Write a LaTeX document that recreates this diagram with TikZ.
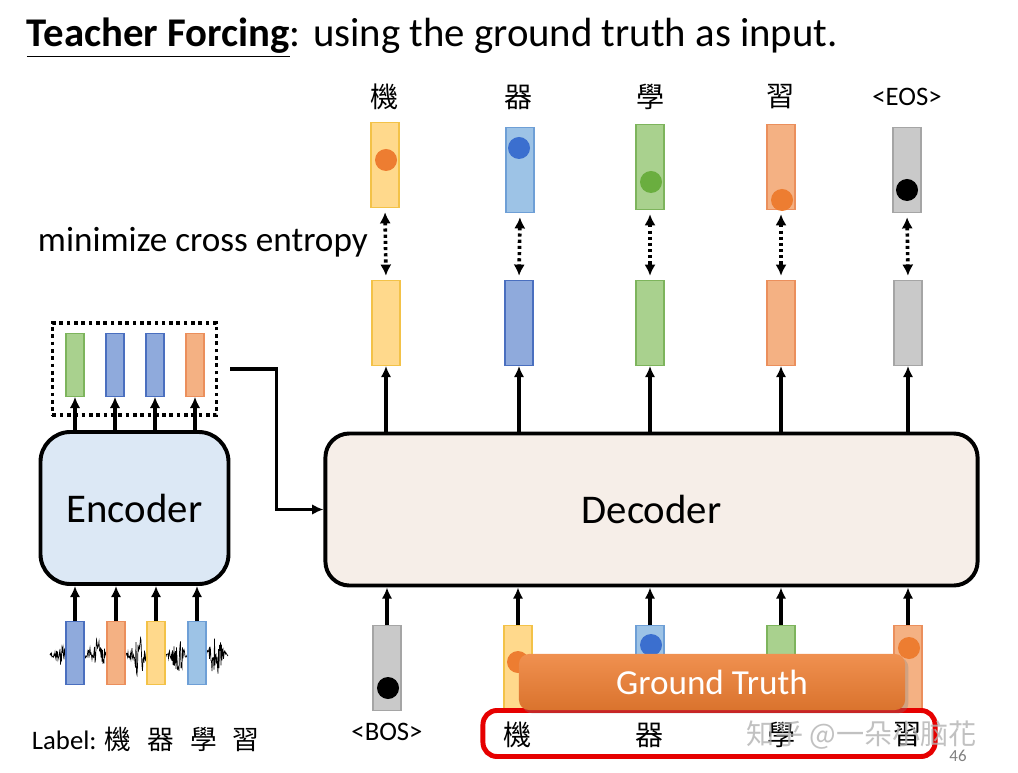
\documentclass[tikz,border=0pt]{standalone}
\usepackage{fontspec}
\setmainfont{Carlito}
\newfontfamily\cjk{Noto Sans CJK TC}
\usetikzlibrary{arrows.meta,positioning,shadows}
\definecolor{yelF}{HTML}{FFD98C}\definecolor{yelD}{HTML}{F3C248}
\definecolor{bluF}{HTML}{9DC3E6}\definecolor{bluD}{HTML}{6E9FD6}
\definecolor{dblF}{HTML}{8FAADC}\definecolor{dblD}{HTML}{4A6FBF}
\definecolor{grnF}{HTML}{A9D18E}\definecolor{grnD}{HTML}{7DB45C}
\definecolor{salF}{HTML}{F4B183}\definecolor{salD}{HTML}{EB8F5C}
\definecolor{gryF}{HTML}{C9C9C9}\definecolor{gryD}{HTML}{A5A5A5}
\definecolor{orgD}{HTML}{ED7D31}\definecolor{bluP}{HTML}{3B6FCF}
\definecolor{grnP}{HTML}{6AAE3F}\definecolor{redD}{HTML}{E60000}
\definecolor{decF}{HTML}{F6EEE8}\definecolor{encF}{HTML}{DCE8F5}
\tikzset{l/.style={font=\fontsize{29}{29}\selectfont}}
\tikzset{m/.style={font=\fontsize{19}{19}\selectfont}}
\tikzset{c/.style={font=\cjk\fontsize{20}{20}\selectfont}}
\tikzset{
vec/.style 2 args={draw=#2, fill=#1, line width=0.8pt, minimum width=0.7cm, minimum height=2.12cm, inner sep=0pt},
svec/.style 2 args={draw=#2, fill=#1, line width=0.8pt, minimum width=0.45cm, minimum height=1.56cm, inner sep=0pt},
dot/.style={circle, fill=#1, minimum size=0.55cm, inner sep=0pt},
arr/.style={-{Latex[length=8pt,width=7.5pt]}, line width=2.4pt},
cmp/.style={{Latex[length=8pt,width=8pt]}-{Latex[length=8pt,width=8pt]}, line width=2.6pt, dash pattern=on 2.2pt off 2.2pt, shorten <=3pt, shorten >=3pt},
declare function={bump(\t,\c,\w)=exp(0-((\t-\c)/\w)^2);}
}

\begin{document}
\begin{tikzpicture}[x=0.025cm, y=-0.025cm]
    \fill[white] (0,0) rectangle (1018,773);
    \useasboundingbox (0,0) rectangle (1018,773);
    \node[l, anchor=base west] (title) at (22,47) {\textbf{\underline{Teacher Forcing}}: using the ground truth as input.};
    \node[font=\fontsize{25}{25}\selectfont, anchor=base west] (ce) at (33,252) {minimize cross entropy};
    \foreach \n/\x/\w in {1/385/機, 2/519/器, 3/651/學, 4/781/習}
      \node[c] (w\n) at (\x,97) {\w};
    \node[m] (w5) at (907,97) {<EOS>};
    \foreach \n/\x/\y/\f/\d in {1/385/165/yelF/yelD, 2/520/170/bluF/bluD, 3/650/167/grnF/grnD, 4/781/167/salF/salD, 5/907/170/gryF/gryD}
      \node[vec={\f}{\d}] (t\n) at (\x,\y) {};
    \node[dot=orgD] (p1) at (386,160) {};
    \node[dot=bluP] (p2) at (519,148) {};
    \node[dot=grnP] (p3) at (651,182) {};
    \node[dot=orgD] (p4) at (782,200) {};
    \node[dot=black] (p5) at (907,190) {};
    \foreach \n/\x/\f/\d in {1/386/yelF/yelD, 2/519/dblF/dblD, 3/650/grnF/grnD, 4/781/salF/salD, 5/908/gryF/gryD}
      \node[vec={\f}{\d}] (o\n) at (\x,323) {};
    \node[draw, line width=2.8pt, rounded corners=0.6cm, fill=decF, minimum width=16.3cm, minimum height=3.8cm] (dec) at (651.5,509.5) {};
    \node[l] (declab) at (dec.center) {Decoder};
    \foreach \n/\x/\f/\d in {1/387/gryF/gryD, 2/518/yelF/yelD, 3/650/bluF/bluD, 4/781/grnF/grnD, 5/908/salF/salD}
      \node[vec={\f}{\d}] (i\n) at (\x,668) {};
    \node[dot=black] (q1) at (388,688) {};
    \node[dot=orgD] (q2) at (518,662) {};
    \node[dot=bluP] (q3) at (651,645) {};
    \node[dot=orgD] (q5) at (909,648) {};
    \foreach \n in {1,...,5} {
      \draw[cmp] (t\n.south) -- (o\n.north);
      \draw[arr] (o\n.south |- dec.north) -- (o\n.south);
      \draw[arr] (i\n.north) -- (i\n.north |- dec.south);
    }
    \node[m] (bos) at (387,732) {<BOS>};
    \pgfmathsetseed{42}
    \draw[line width=0.5pt] (50,655) \foreach \t in {50.5,51,...,228} { -- (\t,{655+rand*(2+9*bump(\t,62,5)+14*bump(\t,98,8)+22*bump(\t,139,6)+16*bump(\t,178,6)+23*bump(\t,216,6))}) };
    \node[draw, line width=2.8pt, rounded corners=0.75cm, fill=encF, minimum width=4.7cm, minimum height=3.8cm] (enc) at (134.5,508) {};
    \node[l] (enclab) at (enc.center) {Encoder};
    \foreach \n/\x/\f/\d in {1/75/grnF/grnD, 2/115/dblF/dblD, 3/155/dblF/dblD, 4/195/salF/salD}
      \node[svec={\f}{\d}] (e\n) at (\x,365) {};
    \foreach \n/\x/\f/\d in {1/75/dblF/dblD, 2/116/salF/salD, 3/156/yelF/yelD, 4/197/bluF/bluD}
      \node[svec={\f}{\d}] (a\n) at (\x,653) {};
    \foreach \n in {1,...,4} {
      \draw[arr] (e\n.south |- enc.north) -- (e\n.south);
      \draw[arr] (a\n.north) -- (a\n.north |- enc.south);
    }
    \node[draw, line width=2.4pt, dash pattern=on 2.6pt off 2.6pt, minimum width=4.1cm, minimum height=2.3cm] (eo) at (134.5,369) {};
    \draw[arr] ([xshift=0.3cm]eo.east) -- ++(1.15cm,0) |- (dec.west);
    \node[draw=redD, line width=3.5pt, rounded corners=0.35cm, fill=white, minimum width=11.3cm, minimum height=1.15cm] (rb) at (709,733.5) {};
    \node[text=white, rounded corners=0.25cm, top color=orgD!85!white, bottom color=orgD!92!black, drop shadow={opacity=0.3}, minimum width=9.65cm, minimum height=1.4cm, font=\fontsize{25}{25}\selectfont] (gt) at (712,682) {Ground Truth};
    \foreach \n/\x/\w in {1/518/機, 2/650/器, 3/782/學, 4/908/習}
      \node[c] (r\n) at (\x,735) {\w};
    \node[c, anchor=west, text=gray!60, opacity=0.8] (wm) at (742,735) {知乎 @一朵小脑花};
    \node[font=\fontsize{12}{12}\selectfont, text=gray] (pg) at (958,756) {46};
    \node[m, anchor=base west] (lab) at (27,749) {Label: {\cjk 機\hspace{0.6em}器\hspace{0.6em}學\hspace{0.6em}習}};
\end{tikzpicture}
\end{document}
